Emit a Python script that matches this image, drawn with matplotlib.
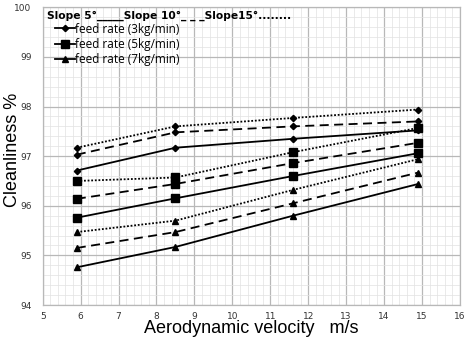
import matplotlib
matplotlib.use("Agg")
import matplotlib.pyplot as plt
from matplotlib.lines import Line2D
from matplotlib.ticker import MultipleLocator

# Aerodynamic velocity (m/s) at which cleanliness was measured
velocity = [5.9, 8.5, 11.6, 14.9]

# Cleanliness (%) per feed rate and slope
feed3_slope5 = [96.71, 97.17, 97.35, 97.52]
feed3_slope10 = [97.03, 97.48, 97.60, 97.70]
feed3_slope15 = [97.17, 97.60, 97.77, 97.94]

feed5_slope5 = [95.76, 96.15, 96.60, 97.06]
feed5_slope10 = [96.14, 96.44, 96.86, 97.27]
feed5_slope15 = [96.50, 96.57, 97.08, 97.57]

feed7_slope5 = [94.76, 95.17, 95.80, 96.44]
feed7_slope10 = [95.15, 95.47, 96.05, 96.67]
feed7_slope15 = [95.47, 95.70, 96.32, 96.94]

feed_labels = ["feed rate (3kg/min)", "feed rate (5kg/min)", "feed rate (7kg/min)"]
x_ticks = list(range(5, 17))
y_ticks = list(range(94, 101))

markers = {"3": ("D", 3.2), "5": ("s", 5.5), "7": ("^", 4.5)}
styles = {"5": "-", "10": (0, (5, 3)), "15": (0, (1, 1))}

series = [
    ("3", "5", feed3_slope5), ("3", "10", feed3_slope10), ("3", "15", feed3_slope15),
    ("5", "5", feed5_slope5), ("5", "10", feed5_slope10), ("5", "15", feed5_slope15),
    ("7", "5", feed7_slope5), ("7", "10", feed7_slope10), ("7", "15", feed7_slope15),
]

fig = plt.figure(figsize=(4.74, 3.38), dpi=100)
ax = fig.add_axes([0.090, 0.0976, 0.8805, 0.8808])

for feed, slope, vals in series:
    m, ms = markers[feed]
    ax.plot(velocity, vals, color="black", linestyle=styles[slope], linewidth=1.3,
            marker=m, markersize=ms, markerfacecolor="black", markeredgecolor="black",
            zorder=3)

ax.set_xlim(5, 16)
ax.set_ylim(94, 100)
ax.set_xticks(x_ticks)
ax.set_yticks(y_ticks)
ax.xaxis.set_minor_locator(MultipleLocator(0.2))
ax.yaxis.set_minor_locator(MultipleLocator(0.2))
ax.grid(which="major", color="#b8b8b8", linewidth=0.9, zorder=0)
ax.grid(which="minor", color="#e2e2e2", linewidth=0.5, zorder=0)
ax.set_axisbelow(True)
ax.tick_params(which="both", length=0, labelsize=6.5, labelcolor="#333333")
ax.tick_params(axis="y", pad=8)
ax.tick_params(axis="x", pad=5)
for sp in ax.spines.values():
    sp.set_color("#b8b8b8")
    sp.set_linewidth(0.9)

label_font = ["Liberation Sans Narrow", "Liberation Sans"]
ax.set_xlabel("Aerodynamic velocity   m/s", fontsize=13, family=label_font, labelpad=-1)
ax.set_ylabel("Cleanliness %", fontsize=13, family=label_font)
ax.yaxis.set_label_coords(21 / 474, 1 - 150 / 338, transform=fig.transFigure)

# legend header describing the slope line styles
fig.text(47 / 474, 1 - 16 / 338, "Slope 5°_____Slope 10°_ _ _Slope15°........",
         fontsize=7.7, fontweight="bold", family="DejaVu Sans", va="center", ha="left")

handles = [Line2D([0], [0], color="black", linewidth=1.3, marker=markers[k][0],
                  markersize=markers[k][1]) for k in ("3", "5", "7")]
ax.legend(handles, feed_labels, loc="upper left", bbox_to_anchor=(55 / 474, 1 - 22.5 / 338),
          bbox_transform=fig.transFigure, frameon=False,
          prop={"family": "Open Sans", "size": 8.5}, handlelength=1.7, handletextpad=0.0,
          labelspacing=0.2, borderpad=0, borderaxespad=0)

fig.savefig("out.png", dpi=100, facecolor="white")
